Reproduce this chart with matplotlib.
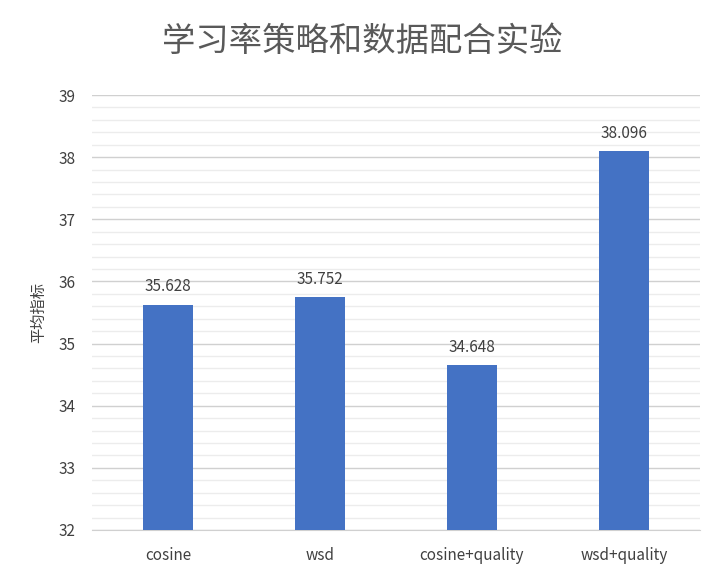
import matplotlib
matplotlib.use("Agg")
import matplotlib.pyplot as plt
import numpy as np
from matplotlib.ticker import MultipleLocator

plt.rcParams['font.family'] = ['Noto Sans CJK SC', 'DejaVu Sans']

categories = ["cosine", "wsd", "cosine+quality", "wsd+quality"]
values = [35.628, 35.752, 34.648, 38.096]
labels = ["35.628", "35.752", "34.648", "38.096"]

fig = plt.figure(figsize=(7.24, 5.78), dpi=100)
ax = fig.add_axes([92/724, 1-530/578, 608/724, 435/578])
x = np.arange(len(categories))
ax.bar(x, values, width=0.33, color="#4472C4", zorder=3)
for xi, v, l in zip(x, values, labels):
    ax.text(xi, v + 0.15, l, ha="center", va="bottom", fontsize=11, color="#404040")
ax.set_xlim(-0.5, 3.5)
ax.set_ylim(32, 39)
ax.yaxis.set_major_locator(MultipleLocator(1))
ax.yaxis.set_minor_locator(MultipleLocator(0.2))
ax.grid(axis="y", which="major", color="#d0d0d0", lw=1, zorder=0)
ax.grid(axis="y", which="minor", color="#ececec", lw=1, zorder=0)
for s in ax.spines.values():
    s.set_visible(False)
ax.spines["bottom"].set_visible(True)
ax.spines["bottom"].set_color("#d0d0d0")
ax.set_xticks(x)
ax.set_xticklabels(categories, fontsize=11, color="#404040")
ax.tick_params(axis="both", length=0, labelsize=11, colors="#404040", pad=12)
ax.tick_params(axis="y", which="minor", length=0)
ax.set_ylabel("平均指标", fontsize=11, color="#404040", labelpad=8)
fig.text(0.5, 1-42/578, "学习率策略和数据配合实验", ha="center", va="center", fontsize=24, color="#595959")
fig.savefig("out.png", dpi=100)
